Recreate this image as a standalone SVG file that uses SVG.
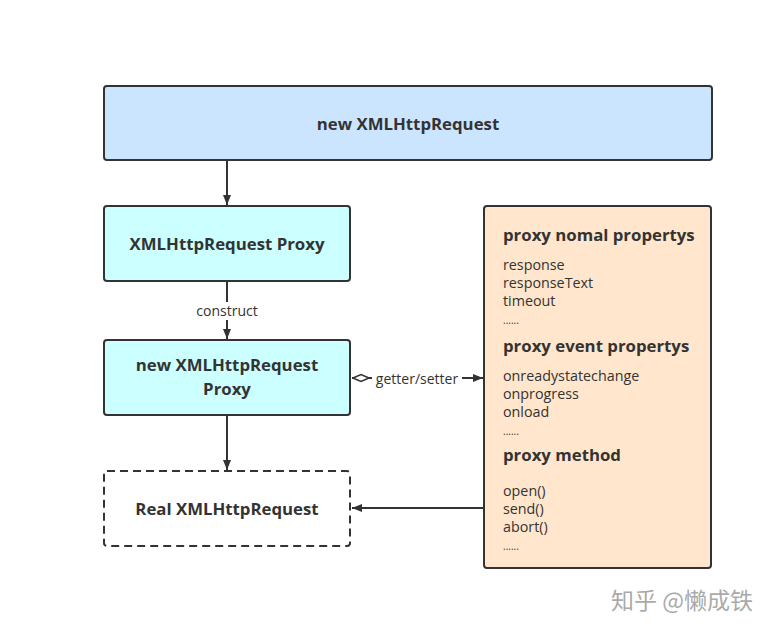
<svg xmlns="http://www.w3.org/2000/svg" width="774" height="631" viewBox="0 0 774 631">
<style>
.box{stroke:#333;stroke-width:2}
.bt{font-family:"Open Sans","Noto Sans",sans-serif;font-weight:bold;font-size:16.8px;fill:#333;text-anchor:middle}
.ht{font-family:"Open Sans","Noto Sans",sans-serif;font-weight:bold;font-size:16.8px;fill:#333}
.it{font-family:"Open Sans","Noto Sans",sans-serif;font-size:14.3px;fill:#333}
.dt{font-family:"Open Sans","Noto Sans",sans-serif;font-size:10px;fill:#333}
.lbl{font-family:"Open Sans","Noto Sans",sans-serif;font-size:14px;fill:#333}
.con{stroke:#333;stroke-width:2;fill:none}
</style>
<defs>
<marker id="arr" viewBox="0 0 10 10" refX="10" refY="5" markerWidth="10" markerHeight="10" markerUnits="userSpaceOnUse" orient="auto">
<path d="M0,1 L10,5 L0,9 Z" fill="#333"/>
</marker>
<marker id="dia" viewBox="0 0 20 10" refX="0" refY="5" markerWidth="20" markerHeight="10" markerUnits="userSpaceOnUse" orient="auto">
<path d="M1,5 L9,1.5 L17,5 L9,8.5 Z" fill="#fff" stroke="#333" stroke-width="1.6"/>
</marker>
</defs>
<rect width="774" height="631" fill="#fff"/>
<g id="connectors">
<line class="con" x1="227" y1="161" x2="227" y2="205" marker-end="url(#arr)"/>
<line class="con" x1="227" y1="282" x2="227" y2="339" marker-end="url(#arr)"/>
<line class="con" x1="227" y1="416" x2="227" y2="470" marker-end="url(#arr)"/>
<line class="con" x1="352" y1="378" x2="483" y2="378" marker-start="url(#dia)" marker-end="url(#arr)"/>
<line class="con" x1="483" y1="508" x2="352" y2="508" marker-end="url(#arr)"/>
<rect x="194" y="302" width="66" height="18" fill="#fff"/>
<text class="lbl" x="227" y="316" text-anchor="middle">construct</text>
<rect x="372" y="370" width="90" height="18" fill="#fff"/>
<text class="lbl" x="417" y="384" text-anchor="middle">getter/setter</text>
</g>
<g id="node-xhr">
<rect class="box" x="104" y="86" width="608" height="74" rx="3" fill="#cce5ff"/>
<text class="bt" x="408" y="130">new XMLHttpRequest</text>
</g>
<g id="node-proxy">
<rect class="box" x="104" y="206" width="246" height="75" rx="3" fill="#ccffff"/>
<text class="bt" x="227" y="250">XMLHttpRequest Proxy</text>
</g>
<g id="node-new-proxy">
<rect class="box" x="104" y="340" width="246" height="75" rx="3" fill="#ccffff"/>
<text class="bt" x="227" y="371">new XMLHttpRequest</text>
<text class="bt" x="227" y="395">Proxy</text>
</g>
<g id="node-real">
<rect class="box" x="104" y="471" width="246" height="75" rx="3" fill="#fff" stroke-dasharray="8,5"/>
<text class="bt" x="227" y="515">Real XMLHttpRequest</text>
</g>
<g id="node-props">
<rect class="box" x="484" y="206" width="227" height="362" rx="3" fill="#ffe6cc"/>
<text class="ht" x="503" y="241">proxy nomal propertys</text>
<text class="it" x="503" y="270">response</text>
<text class="it" x="503" y="288">responseText</text>
<text class="it" x="503" y="306">timeout</text>
<text class="dt" x="503" y="324">......</text>
<text class="ht" x="503" y="352">proxy event propertys</text>
<text class="it" x="503" y="381">onreadystatechange</text>
<text class="it" x="503" y="399">onprogress</text>
<text class="it" x="503" y="417">onload</text>
<text class="dt" x="503" y="435">......</text>
<text class="ht" x="503" y="461">proxy method</text>
<text class="it" x="503" y="496">open()</text>
<text class="it" x="503" y="514">send()</text>
<text class="it" x="503" y="532">abort()</text>
<text class="dt" x="503" y="550">......</text>
</g>
<text x="611" y="609" font-family="'Noto Sans CJK SC',sans-serif" font-size="23" fill="#aaa">知乎 @懒成铁</text>
</svg>
